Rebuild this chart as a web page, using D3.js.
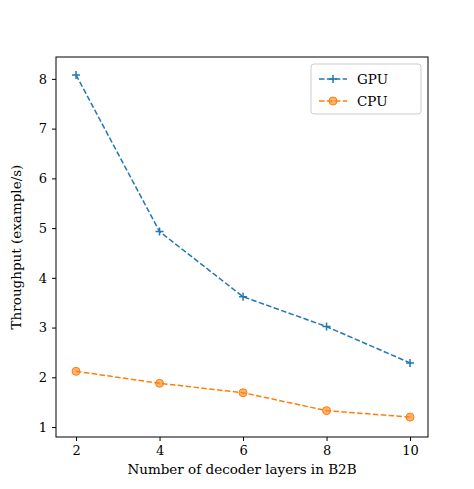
<!DOCTYPE html>
<html><head><meta charset="utf-8">
<script src="https://cdn.jsdelivr.net/npm/d3@7"></script>
<style>body{margin:0;background:#fff}text{font-family:"DejaVu Serif",serif}</style>
</head><body><svg id="c" width="474" height="489"></svg>
<script>
const layers=[2,4,6,8,10];
const gpu=[8.08,4.93,3.62,3.02,2.29];
const cpu=[2.12,1.88,1.69,1.33,1.20];
const xTicks=[2,4,6,8,10];
const yTicks=[1,2,3,4,5,6,7,8];
const svg=d3.select("#c");
const L=56,R=428,T=57,B=437;
const x=d3.scaleLinear().domain([1.52,10.43]).range([L,R]);
const y=d3.scaleLinear().domain([0.8,8.44]).range([B,T]);
const g=svg.append("g");
g.append("g").attr("transform",`translate(0,${B})`).call(d3.axisBottom(x).tickValues(xTicks).tickSize(4).tickPadding(5)).call(a=>a.select(".domain").remove()).selectAll("text").attr("font-size",13).attr("fill","#000");
g.append("g").attr("transform",`translate(${L},0)`).call(d3.axisLeft(y).tickValues(yTicks).tickSize(4).tickPadding(5)).call(a=>a.select(".domain").remove()).selectAll("text").attr("font-size",13).attr("fill","#000");
g.append("rect").attr("x",L).attr("y",T).attr("width",R-L).attr("height",B-T).attr("fill","none").attr("stroke","#000").attr("stroke-width",1);
const line=d3.line().x((d,i)=>x(layers[i])).y(d=>y(d));
const cG="#1f77b4",cC="#ff7f0e";
g.append("path").attr("d",line(gpu)).attr("fill","none").attr("stroke",cG).attr("stroke-width",1.5).attr("stroke-dasharray","5.5,2.4");
g.append("path").attr("d",line(cpu)).attr("fill","none").attr("stroke",cC).attr("stroke-width",1.5).attr("stroke-dasharray","5.5,2.4");
const plus=(sel,cx,cy)=>sel.append("path").attr("d",`M${cx-4},${cy}H${cx+4}M${cx},${cy-4}V${cy+4}`).attr("stroke",cG).attr("stroke-width",1.5);
gpu.forEach((v,i)=>plus(g,x(layers[i]),y(v)));
cpu.forEach((v,i)=>g.append("circle").attr("cx",x(layers[i])).attr("cy",y(v)).attr("r",4).attr("fill",cC).attr("fill-opacity",0.6).attr("stroke",cC).attr("stroke-width",1));
const lg=g.append("g");
lg.append("rect").attr("x",311).attr("y",64).attr("width",110).attr("height",50).attr("rx",3).attr("fill","#fff").attr("stroke","#ccc");
lg.append("line").attr("x1",319).attr("x2",347).attr("y1",79).attr("y2",79).attr("stroke",cG).attr("stroke-width",1.5).attr("stroke-dasharray","5.5,2.4");
plus(lg,333,79);
lg.append("text").attr("x",357).attr("y",84).attr("font-size",13.5).text("GPU");
lg.append("line").attr("x1",319).attr("x2",347).attr("y1",101).attr("y2",101).attr("stroke",cC).attr("stroke-width",1.5).attr("stroke-dasharray","5.5,2.4");
lg.append("circle").attr("cx",333).attr("cy",101).attr("r",4).attr("fill",cC).attr("fill-opacity",0.6).attr("stroke",cC);
lg.append("text").attr("x",357).attr("y",106).attr("font-size",13.5).text("CPU");
g.append("text").attr("x",(L+R)/2).attr("y",474).attr("text-anchor","middle").attr("font-size",13.5).text("Number of decoder layers in B2B");
g.append("text").attr("transform",`translate(21,${(T+B)/2}) rotate(-90)`).attr("text-anchor","middle").attr("font-size",13.5).text("Throughput (example/s)");
</script></body></html>
